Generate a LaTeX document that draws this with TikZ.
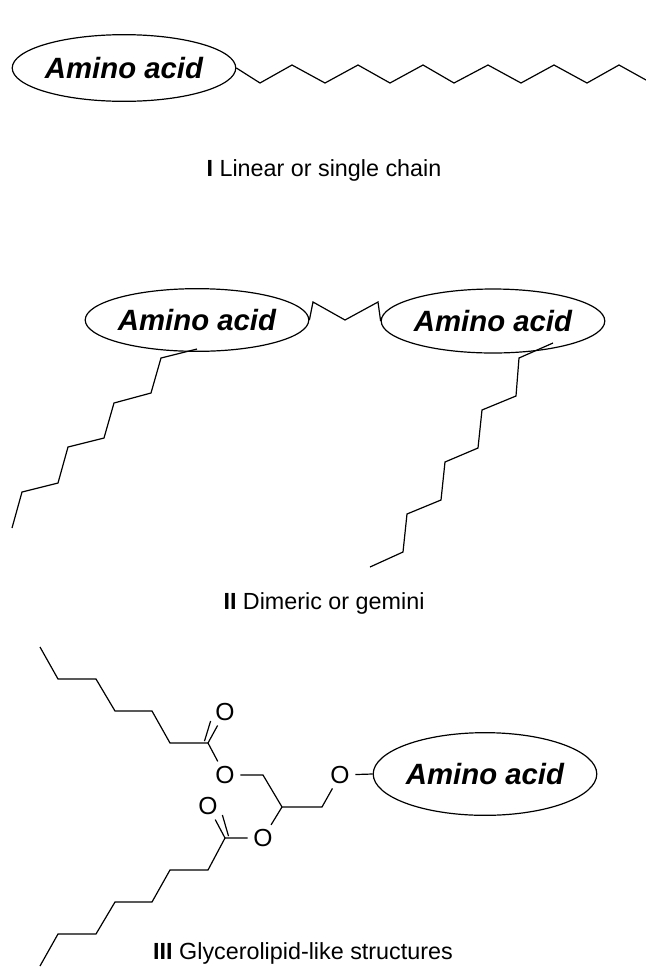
\documentclass[tikz,border=0pt]{standalone}
\usepackage{fontspec}
\setmainfont{Liberation Sans}
\usetikzlibrary{shapes.geometric}
\begin{document}
\begin{tikzpicture}[x=0.75pt,y=-0.75pt,line width=0.9pt,
  aa/.style={draw,ellipse,font=\fontsize{22}{26}\selectfont\bfseries\itshape,inner sep=0pt},
  atom/.style={circle,inner sep=1pt,font=\fontsize{18.5}{22}\selectfont},
  lab/.style={font=\fontsize{17.5}{21}\selectfont}]
\useasboundingbox (0,0) rectangle (646,972);
% I
\node[aa, minimum width=156pt, minimum height=50pt] (e1) at (124,68) {Amino acid\hspace{12pt}};
\draw (e1.east) -- (260,83) -- (292,65) -- (325,83) -- (358,65) -- (390,83) -- (423,65) -- (454,83) -- (488,65) -- (521,83) -- (554,65) -- (587,83) -- (619,65) -- (646,80);
\node[lab] (l1) at (324,170) {\textbf{I} Linear or single chain};
% II
\node[aa, minimum width=126pt, minimum height=47pt] (e2) at (197,320) {Amino acid};
\node[aa, minimum width=127pt, minimum height=48pt] (e3) at (493,321) {Amino acid};
\draw (e2.east) -- (313,302) -- (345,320) -- (378,302) -- (e3.west);
\draw (197,349) -- (161,358) -- (151,393) -- (114,403) -- (104,438) -- (68,447) -- (58,483) -- (22,492) -- (12,528);
\draw (553,343) -- (519,358) -- (516,396) -- (482,410) -- (478,448) -- (445,462) -- (441,500) -- (407,514) -- (403,552) -- (370,567);
\node[lab] (l2) at (324,603) {\textbf{II} Dimeric or gemini};
% III
\node[aa, minimum width=158pt, minimum height=62pt] (e4) at (485,774) {Amino acid};
\node[atom] (O1) at (225,712) {O};
\node[atom] (O2) at (225,775) {O};
\node[atom] (O3) at (340,775) {O};
\node[atom] (O4) at (263,838) {O};
\node[atom] (O5) at (208,806) {O};
\coordinate (c1) at (208,743);
\coordinate (c2) at (225,838);
\coordinate (g1) at (263,775);
\coordinate (g2) at (282,807);
\coordinate (g3) at (322,807);
\draw (40,647) -- (58,679) -- (96,679) -- (115,711) -- (152,711) -- (170,743) -- (c1);
\draw (c1) -- (O1);
\draw ([shift={(-3.5,-1.9)}]c1) -- ([shift={(-3.5,-1.9)}]O1.south west);
\draw (c1) -- (O2);
\draw (O2) -- (g1) -- (g2) -- (g3) -- (O3) -- (e4.west);
\draw (g2) -- (O4) -- (c2);
\draw (c2) -- (O5);
\draw ([shift={(3.5,-1.9)}]c2) -- ([shift={(3.5,-1.9)}]O5.south east);
\draw (c2) -- (208,870) -- (170,870) -- (152,902) -- (115,902) -- (96,934) -- (58,934) -- (40,966);
\node[lab] (l3) at (303,953) {\textbf{III} Glycerolipid-like structures};
\end{tikzpicture}
\end{document}
